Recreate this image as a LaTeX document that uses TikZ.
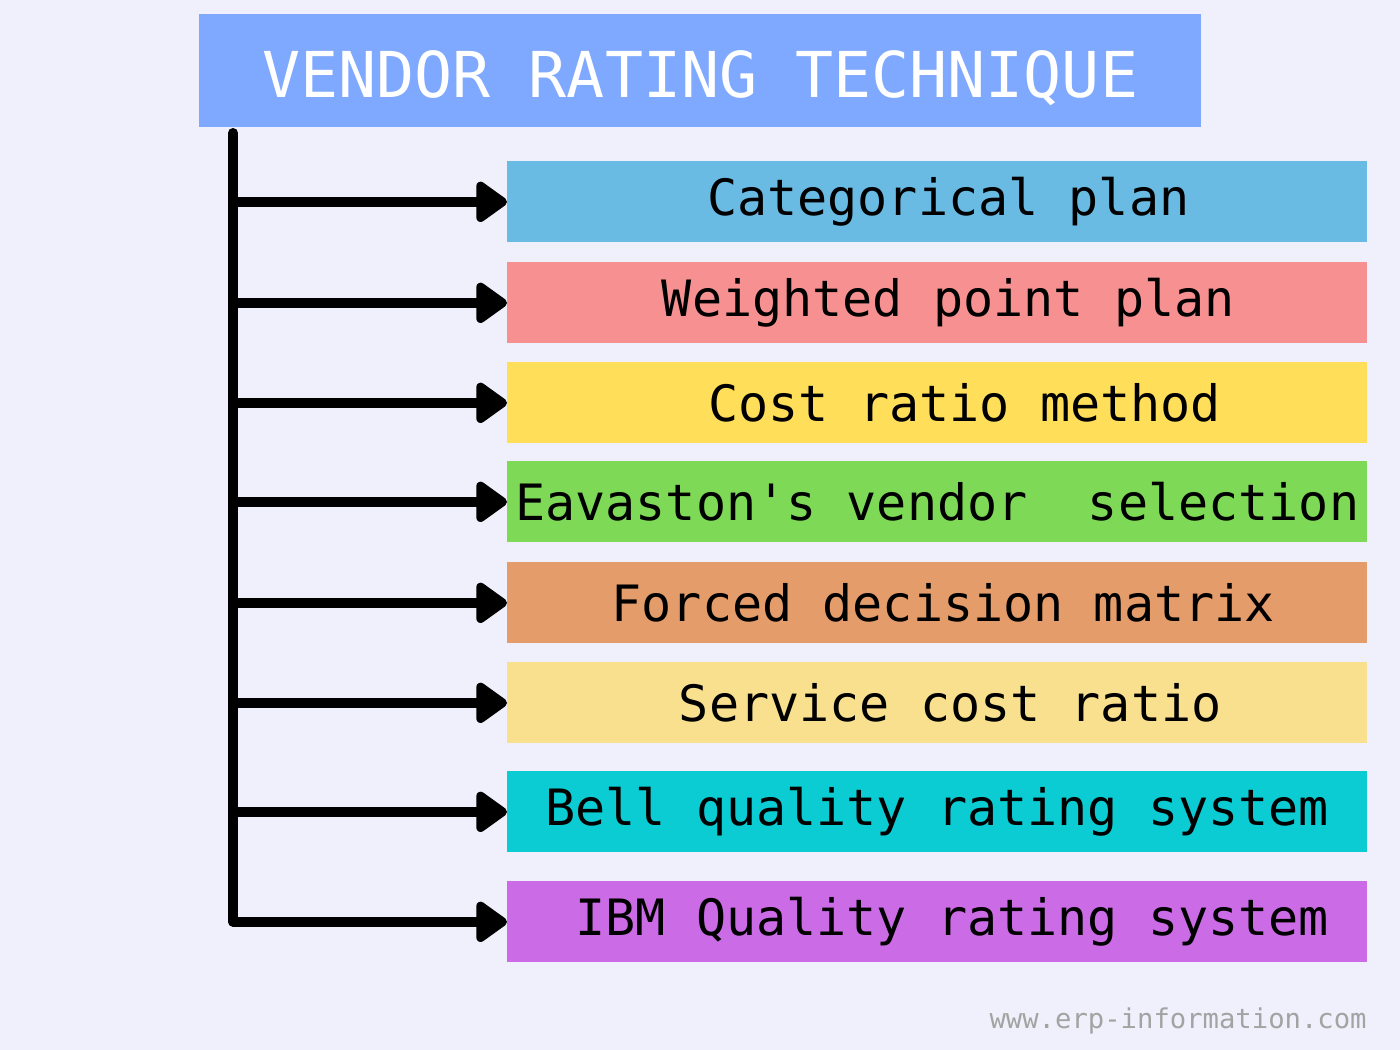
\documentclass[tikz,border=0pt]{standalone}
\usepackage{fontspec}
\setmonofont{DejaVu Sans Mono}
\usetikzlibrary{arrows.meta}

\definecolor{bgcol}{HTML}{F0F0FC}
\definecolor{titlecol}{HTML}{7FA8FF}
\definecolor{catcol}{HTML}{69BBE4}
\definecolor{weightcol}{HTML}{F79191}
\definecolor{costcol}{HTML}{FFDE59}
\definecolor{evancol}{HTML}{7ED957}
\definecolor{forcedcol}{HTML}{E49C6B}
\definecolor{servcol}{HTML}{F8E08E}
\definecolor{bellcol}{HTML}{0BCBD3}
\definecolor{ibmcol}{HTML}{CB6CE6}
\definecolor{markcol}{HTML}{A3A3A3}

\tikzset{
  planbox/.style={anchor=north west, minimum width=17.2cm, minimum height=1.62cm,
    inner sep=0pt, text=black, font=\ttfamily\fontsize{28.5}{32}\selectfont},
  feed/.style={line width=5.7pt, line cap=round, line join=round,
    -{Triangle[round, length=0.68cm, width=0.92cm]}}
}

\begin{document}
\begin{tikzpicture}[x=0.02cm,y=-0.02cm]
    \fill[bgcol] (0,0) rectangle (1400,1050);
    \useasboundingbox (0,0) rectangle (1400,1050);

    % heading
    \node[anchor=north west, fill=titlecol, minimum width=20.04cm, minimum height=2.26cm,
      inner sep=0pt, text height=1.2cm, text depth=0.14cm, text=white,
      font=\ttfamily\fontsize{36}{40}\selectfont]
      (title) at (199,14) {VENDOR RATING TECHNIQUE};

    % techniques
    \node[planbox, fill=catcol] (cat) at (507,161) {\hspace{0.44cm}Categorical plan};
    \node[planbox, fill=weightcol] (weight) at (507,262) {\hspace{0.44cm}Weighted point plan};
    \node[planbox, fill=costcol] (cost) at (507,362) {\hspace{1.1cm}Cost ratio method};
    \node[planbox, fill=evancol] (evan) at (507,461) {Eavaston's vendor\ \ selection};
    \node[planbox, fill=forcedcol] (forced) at (507,562) {\hspace{0.24cm}Forced decision matrix};
    \node[planbox, fill=servcol] (serv) at (507,662) {\hspace{0.52cm}Service cost ratio};
    \node[planbox, fill=bellcol] (bell) at (507,771) {Bell quality rating system};
    \node[planbox, fill=ibmcol] (ibm) at (507,881) {\hspace{0.6cm}IBM Quality rating system};

    \coordinate (top) at (233,133);

    % trunk and branches
    \draw[feed] (top) |- (ibm.west);
    \draw[feed] (top |- cat.west) -- (cat.west);
    \draw[feed] (top |- weight.west) -- (weight.west);
    \draw[feed] (top |- cost.west) -- (cost.west);
    \draw[feed] (top |- evan.west) -- (evan.west);
    \draw[feed] (top |- forced.west) -- (forced.west);
    \draw[feed] (top |- serv.west) -- (serv.west);
    \draw[feed] (top |- bell.west) -- (bell.west);

    \node[anchor=east, text=markcol, inner sep=0pt, font=\ttfamily\fontsize{15.5}{18}\selectfont]
      (mark) at (1367,1021) {www.erp-information.com};
\end{tikzpicture}
\end{document}
